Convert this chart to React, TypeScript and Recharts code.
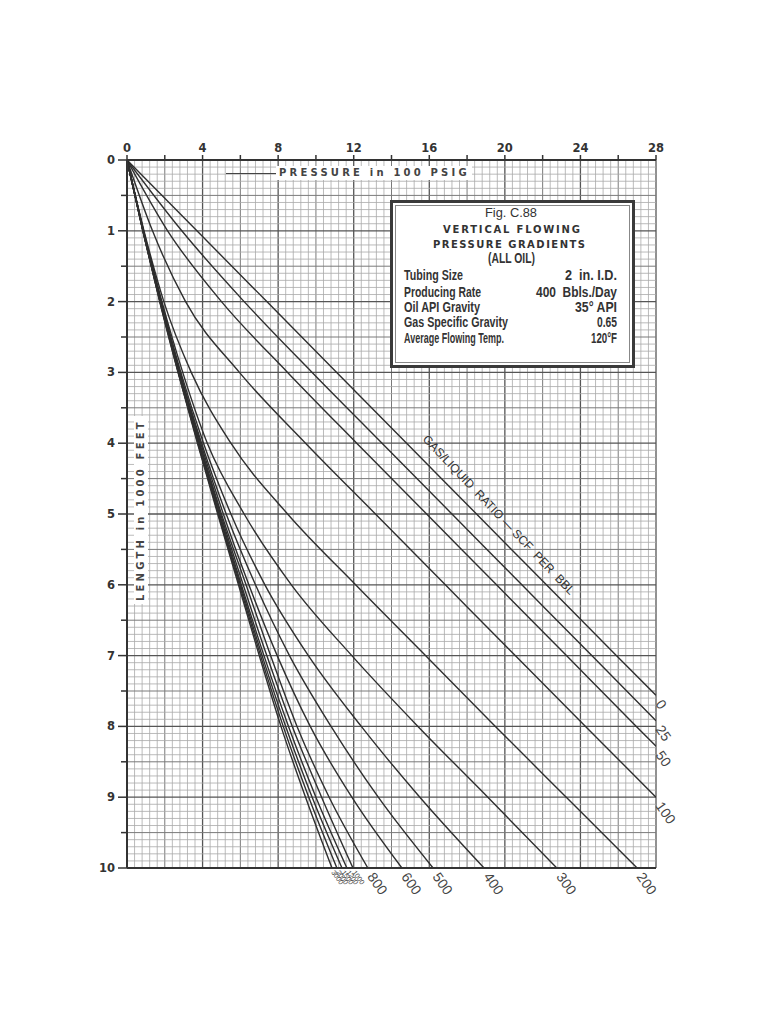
import React from 'react'
import { LineChart, Line, XAxis, YAxis, ReferenceLine } from 'recharts'

// depth in 1000 ft, pressure in 100 psig
const DEPTHS = [0, 1, 2, 3, 4, 5, 6, 7, 8, 9, 10]
const GLR_VALUES = [0, 25, 50, 100, 200, 300, 400, 500, 600, 800, 1000, 1200, 1500, 2000, 3000]

// pressure read at each depth step (stops where the curve leaves the right edge)
const P_GLR_0 = [0, 3.7, 7.4, 11.1, 14.8, 18.5, 22.2, 25.9]
const P_GLR_25 = [0, 2.9, 6.2, 9.8, 13.5, 17.2, 20.9, 24.6]
const P_GLR_50 = [0, 2.15, 5.0, 8.5, 12.16, 15.86, 19.56, 23.26, 26.96]
const P_GLR_100 = [0, 1.35, 3.1, 5.95, 9.45, 13.15, 16.85, 20.55, 24.27]
const P_GLR_200 = [0, 0.9, 1.95, 3.4, 5.5, 8.5, 12.1, 15.8, 19.5, 23.25, 27.0]
const P_GLR_300 = [0, 0.88, 1.85, 2.95, 4.25, 6.2, 8.7, 11.9, 15.4, 19.1, 22.75]
const P_GLR_400 = [0, 0.87, 1.82, 2.85, 4.05, 5.5, 7.3, 9.6, 12.4, 15.5, 18.9]
const P_GLR_500 = [0, 0.86, 1.8, 2.8, 3.95, 5.25, 6.8, 8.6, 10.8, 13.3, 16.2]
const P_GLR_600 = [0, 0.86, 1.8, 2.8, 3.9, 5.1, 6.45, 7.95, 9.7, 11.9, 14.55]
const P_GLR_800 = [0, 0.85, 1.78, 2.78, 3.85, 5.0, 6.3, 7.6, 9.0, 10.7, 12.75]
const P_GLR_1000 = [0, 0.85, 1.77, 2.76, 3.82, 4.95, 6.15, 7.4, 8.75, 10.3, 11.96]
const P_GLR_1200 = [0, 0.85, 1.76, 2.74, 3.79, 4.9, 6.05, 7.25, 8.55, 10.0, 11.64]
const P_GLR_1500 = [0, 0.84, 1.75, 2.72, 3.77, 4.86, 6.0, 7.15, 8.4, 9.8, 11.38]
const P_GLR_2000 = [0, 0.84, 1.74, 2.71, 3.75, 4.83, 5.95, 7.07, 8.27, 9.62, 11.11]
const P_GLR_3000 = [0, 0.84, 1.73, 2.7, 3.73, 4.8, 5.9, 7.0, 8.15, 9.45, 10.85]

// depth where the low-GLR curves reach 28 (right edge)
const EXIT_DEPTHS = [7.56, 7.92, 8.28, 9.0]

const PRESSURE_LABEL_TICKS = [0, 4, 8, 12, 16, 20, 24, 28]
const PRESSURE_TICKS = [0, 2, 4, 6, 8, 10, 12, 14, 16, 18, 20, 22, 24, 26, 28]
const DEPTH_TICKS = [0, 0.5, 1, 1.5, 2, 2.5, 3, 3.5, 4, 4.5, 5, 5.5, 6, 6.5, 7, 7.5, 8, 8.5, 9, 9.5, 10]

// title box text: [left text, right text]
const BOX_ROWS = [
  ['Tubing Size', '2  in. I.D.'],
  ['Producing Rate', '400  Bbls./Day'],
  ['Oil API Gravity', '35° API'],
  ['Gas Specific Gravity', '0.65'],
  ['Average Flowing Temp.', '120°F'],
]
const BOX_LEFT_W = [59, 77, 76, 104, 100]
const BOX_RIGHT_W = [52, 81, 42, 20, 26]

const PRESSURE_SERIES = [
  P_GLR_0, P_GLR_25, P_GLR_50, P_GLR_100, P_GLR_200, P_GLR_300, P_GLR_400, P_GLR_500,
  P_GLR_600, P_GLR_800, P_GLR_1000, P_GLR_1200, P_GLR_1500, P_GLR_2000, P_GLR_3000,
]

const series = GLR_VALUES.map((glr, i) => {
  const pts = PRESSURE_SERIES[i].map((p, j) => ({ p, d: DEPTHS[j] }))
  if (EXIT_DEPTHS[i] !== undefined) pts.push({ p: 28, d: EXIT_DEPTHS[i] })
  return { glr, pts }
})

const vGrid = Array.from({ length: 71 }, (_, k) => ({ v: +(k * 0.4).toFixed(1), k }))
const hGrid = Array.from({ length: 101 }, (_, k) => ({ v: k / 10, k }))

const INK = '#333'
const FONT = '"DejaVu Sans", "Liberation Sans", sans-serif'
const BOX_FONT = '"Liberation Sans", Arial, sans-serif'

function gridStyle(k: number) {
  if (k % 10 === 0) return { stroke: '#555', strokeWidth: 1.3 }
  if (k % 5 === 0) return { stroke: '#7a7a7a', strokeWidth: 1 }
  return { stroke: '#aaa', strokeWidth: 0.8 }
}

const PressureTick = (props: any) => {
  const { x, y, payload } = props
  const v = payload.value
  return (
    <g>
      <line x1={x} x2={x} y1={y} y2={y - 5} stroke={INK} strokeWidth={1.5} />
      {PRESSURE_LABEL_TICKS.includes(v) && (
        <text x={x} y={y - 8} textAnchor="middle" fontFamily={FONT} fontWeight="bold" fontSize={11.5} fill={INK}>
          {v}
        </text>
      )}
    </g>
  )
}

const DepthTick = (props: any) => {
  const { x, y, payload } = props
  const v = payload.value
  const whole = Number.isInteger(v)
  return (
    <g>
      <line x1={x - (whole ? 9 : 6)} x2={x} y1={y} y2={y} stroke={INK} strokeWidth={1.5} />
      {whole && (
        <text x={x - 12} y={y + 4} textAnchor="end" fontFamily={FONT} fontWeight="bold" fontSize={11.5} fill={INK}>
          {v}
        </text>
      )}
    </g>
  )
}

const endLabel = (glr: number, last: number) => (props: any) => {
  const { x, y, index } = props
  if (index !== last) return null
  const small = glr >= 1000
  return (
    <text
      transform={`translate(${x + (small ? 1 : 3)}, ${y + (small ? 3 : 6)}) rotate(55)`}
      fontFamily='"Liberation Sans", sans-serif'
      fontSize={small ? 7 : 14}
      fill="#444"
      dy="0.35em"
    >
      {glr}
    </text>
  )
}

const spaced = {
  fontFamily: FONT,
  fontWeight: 'bold' as const,
  fontSize: 10,
  letterSpacing: 3.2,
  color: '#444',
  whiteSpace: 'nowrap' as const,
}

function TitleBox() {
  const rowBase = [80, 97, 112, 127, 143]
  return (
    <svg width={245} height={168} style={{ position: 'absolute', left: 390, top: 200 }}>
      <rect x={1.5} y={1.5} width={242} height={165} fill="#fff" stroke="#3a3a3a" strokeWidth={3} />
      <rect x={5.5} y={5.5} width={234} height={157} fill="none" stroke="#888" strokeWidth={1} />
      <g fill="#333" fontFamily={BOX_FONT}>
        <text x={95} y={17} fontSize={13.5} textLength={52} lengthAdjust="spacingAndGlyphs">Fig. C.88</text>
        <text x={53} y={33} fontSize={10} fontFamily={FONT} fontWeight="bold" textLength={137} lengthAdjust="spacing">
          VERTICAL FLOWING
        </text>
        <text x={43} y={48} fontSize={10} fontFamily={FONT} fontWeight="bold" textLength={152} lengthAdjust="spacing">
          PRESSURE GRADIENTS
        </text>
        <text x={98} y={63} fontSize={14} fontWeight="bold" textLength={47} lengthAdjust="spacingAndGlyphs">(ALL OIL)</text>
        {BOX_ROWS.map((r, i) => (
          <g key={r[0]} fontSize={14} fontWeight="bold">
            <text x={14} y={rowBase[i]} textLength={BOX_LEFT_W[i]} lengthAdjust="spacingAndGlyphs">
              {r[0]}
            </text>
            <text
              x={227 - BOX_RIGHT_W[i]}
              y={rowBase[i]}
              textLength={BOX_RIGHT_W[i]}
              lengthAdjust="spacingAndGlyphs"
              style={{ whiteSpace: 'pre' }}
            >
              {r[1]}
            </text>
          </g>
        ))}
      </g>
    </svg>
  )
}

export default function App() {
  return (
    <div style={{ position: 'absolute', left: 0, top: 0, width: 768, height: 1024, background: '#fff' }}>
      <LineChart width={768} height={1024} margin={{ top: 140, right: 112, bottom: 156, left: 107 }}>
        {vGrid.map((g) => (
          <ReferenceLine key={'v' + g.k} x={g.v} {...gridStyle(g.k)} />
        ))}
        {hGrid.map((g) => (
          <ReferenceLine key={'h' + g.k} y={g.v} {...gridStyle(g.k)} />
        ))}
        <ReferenceLine y={10} stroke={INK} strokeWidth={2} />
        <XAxis
          type="number"
          dataKey="p"
          orientation="top"
          domain={[0, 28]}
          ticks={PRESSURE_TICKS}
          interval={0}
          height={20}
          tickSize={0}
          tickMargin={0}
          tickLine={false}
          tick={PressureTick}
          axisLine={{ stroke: INK, strokeWidth: 2 }}
          allowDataOverflow
        />
        <YAxis
          type="number"
          dataKey="d"
          reversed
          domain={[0, 10]}
          ticks={DEPTH_TICKS}
          interval={0}
          width={20}
          tickSize={0}
          tickMargin={0}
          tickLine={false}
          tick={DepthTick}
          axisLine={{ stroke: INK, strokeWidth: 2 }}
          allowDataOverflow
        />
        {series.map((s) => (
          <Line
            key={s.glr}
            data={s.pts}
            dataKey="d"
            type="monotone"
            stroke="#2f2f2f"
            strokeWidth={1.4}
            dot={false}
            activeDot={false}
            isAnimationActive={false}
            label={endLabel(s.glr, s.pts.length - 1)}
          />
        ))}
      </LineChart>

      {/* axis titles */}
      <div style={{ position: 'absolute', left: 226, top: 173, width: 50, borderTop: '1.5px solid #444' }} />
      <div style={{ ...spaced, position: 'absolute', left: 276, top: 166, background: '#fff', padding: '0 2px 0 3px', lineHeight: '14px' }}>
        PRESSURE in 100 PSIG
      </div>
      <div
        style={{
          ...spaced,
          position: 'absolute',
          left: 141,
          top: 604,
          transform: 'rotate(-90deg)',
          transformOrigin: '0 0',
          background: '#fff',
          padding: '0 3px',
          lineHeight: '14px',
          marginLeft: -7,
        }}
      >
        LENGTH in 1000 FEET
      </div>

      <div
        style={{
          position: 'absolute',
          left: 425,
          top: 430,
          transform: 'rotate(46.5deg)',
          transformOrigin: '0 50%',
          fontFamily: '"Liberation Sans", sans-serif',
          fontSize: 12,
          color: '#333',
          whiteSpace: 'pre',
          lineHeight: '14px',
        }}
      >
        {'GAS/LIQUID  RATIO — SCF  PER  BBL'}
      </div>

      <TitleBox />
    </div>
  )
}
